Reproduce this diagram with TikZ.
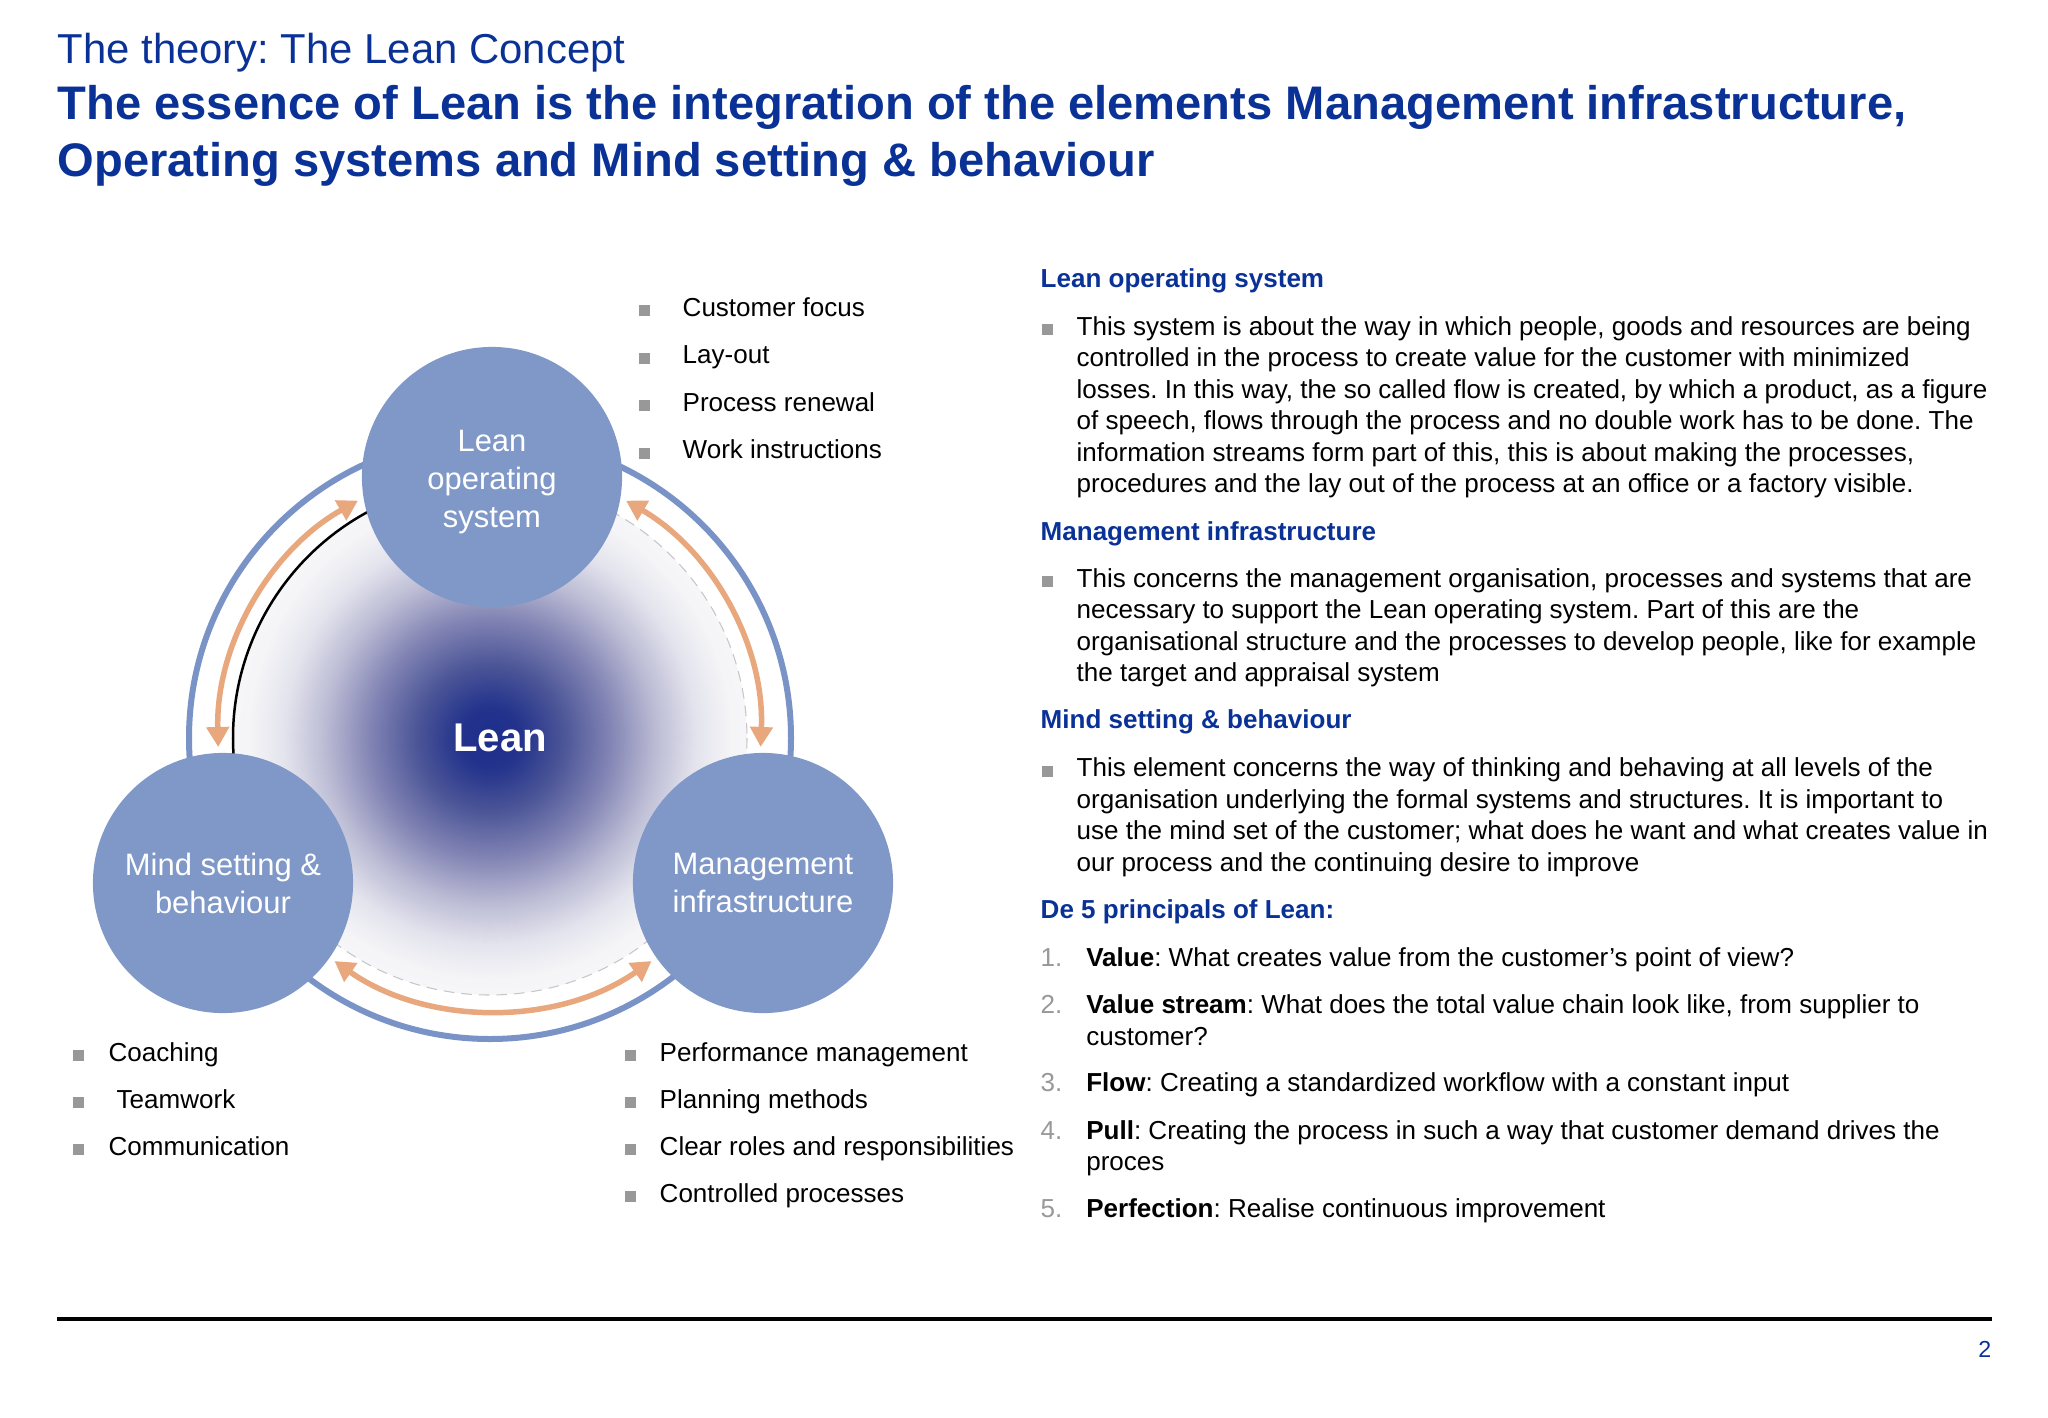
\documentclass[tikz,border=0pt]{standalone}
\usepackage{fontspec}
\setmainfont{Liberation Sans}
\usepackage{xcolor}
\usetikzlibrary{arrows.meta,calc,positioning}
\definecolor{titleblue}{RGB}{10,50,150}
\definecolor{circblue}{RGB}{127,152,199}
\definecolor{ringblue}{RGB}{122,147,198}
\definecolor{arrorange}{RGB}{232,167,125}
\definecolor{bulletgray}{RGB}{152,152,152}
\pgfdeclareradialshading{leanglow}{\pgfpointorigin}{%
  rgb(0bp)=(0.11,0.18,0.55);
  rgb(3bp)=(0.14,0.20,0.55);
  rgb(7bp)=(0.29,0.33,0.59);
  rgb(11.5bp)=(0.50,0.51,0.70);
  rgb(16bp)=(0.73,0.73,0.83);
  rgb(20bp)=(0.89,0.89,0.93);
  rgb(23.5bp)=(0.96,0.96,0.97);
  rgb(25bp)=(0.965,0.965,0.975);
  rgb(50bp)=(0.965,0.965,0.975)}
\frenchspacing

\begin{document}
\begin{tikzpicture}[x=0.01cm,y=-0.01cm,
  element/.style={circle,fill=circblue,minimum size=2.6cm,inner sep=0pt,outer sep=0.06cm,
    text=white,align=center,font=\fontsize{8.8}{10.8}\selectfont},
  cyc/.style={draw=arrorange,line width=0.055cm,
    arrows={Triangle[width=0.22cm,length=0.2cm]-Triangle[width=0.22cm,length=0.2cm]}},
  item/.style={anchor=base west,inner sep=0pt,font=\fontsize{7.4}{8.9}\selectfont},
  head/.style={item,text=titleblue,font=\fontsize{7.4}{8.9}\selectfont\bfseries},
  num/.style={item,text=bulletgray}]
\useasboundingbox (0,0) rectangle (2048,1418);

\node[item,text=titleblue,font=\fontsize{11.9}{14}\selectfont] (kicker) at (57,63) {The theory: The Lean Concept};
\node[item,text=titleblue,font=\fontsize{13.4}{16}\selectfont\bfseries] (title1) at (57,119)
  {The essence of Lean is the integration of the elements Management infrastructure,};
\node[item,text=titleblue,font=\fontsize{13.4}{16}\selectfont\bfseries] (title2) at (57,176)
  {Operating systems and Mind setting \& behaviour};

\coordinate (ctr) at (490,738);
\shade[shading=leanglow] (ctr) circle (257);
\draw[gray!45,densely dashed,line width=0.3pt] (ctr) circle (257);
\draw[black,line width=0.025cm] (ctr) ++(-104:257) arc[start angle=-104,end angle=-184,radius=257];
\draw[ringblue,line width=0.06cm] (ctr) circle (301);

\node[element] (ops) at (492,477) {\rule{0pt}{9.2pt}Lean\\operating\\system};
\node[element] (mind) at (223,883) {Mind setting \&\\behaviour};
\node[element] (mgmt) at (763,883) {Management\\infrastructure};
\node[text=white,inner sep=0pt,font=\fontsize{11.4}{13}\selectfont\bfseries] (core) at (500,738) {Lean};

\draw[cyc] (mind.92) to[bend left=31,looseness=0.92] (ops.190);
\draw[cyc] (ops.-10) to[bend left=31,looseness=0.92] (mgmt.91);
\draw[cyc] (mind.-35) to[bend right=35,looseness=0.92] (mgmt.-145);

\foreach \yy/\txt [count=\i] in {316/Customer focus,363.5/Lay-out,411/Process renewal,458.5/Work instructions}{
  \fill[bulletgray] (638.5,\yy) rectangle ++(11,-11);
  \node[item] (los\i) at (682,\yy) {\txt};
}
\foreach \yy/\dx/\txt [count=\i] in {1061/0/Coaching,1108/8/Teamwork,1155/0/Communication}{
  \fill[bulletgray] (72.5,\yy) rectangle ++(11,-11);
  \node[item] (msb\i) at (108+\dx,\yy) {\txt};
}
\foreach \yy/\txt [count=\i] in {1061/Performance management,1108/Planning methods,
                                 1155/Clear roles and responsibilities,1202/Controlled processes}{
  \fill[bulletgray] (624.5,\yy) rectangle ++(11,-11);
  \node[item] (mi\i) at (659,\yy) {\txt};
}

\node[head] (hlos) at (1040,287) {Lean operating system};
\fill[bulletgray] (1041.5,335) rectangle ++(11,-11);
\foreach \yy/\txt [count=\i] in {
  335/{This system is about the way in which people, goods and resources are being},
  366.5/{controlled in the process to create value for the customer with minimized},
  398/{losses. In this way, the so called flow is created, by which a product, as a figure},
  429.5/{of speech, flows through the process and no double work has to be done. The},
  461/{information streams form part of this, this is about making the processes,},
  492.5/{procedures and the lay out of the process at an office or a factory visible.}}{
  \node[item] (plos\i) at (1076,\yy) {\txt};
}

\node[head] (hmi) at (1040,540) {Management infrastructure};
\fill[bulletgray] (1041.5,587) rectangle ++(11,-11);
\foreach \yy/\txt [count=\i] in {
  587/{This concerns the management organisation, processes and systems that are},
  618.5/{necessary to support the Lean operating system. Part of this are the},
  650/{organisational structure and the processes to develop people, like for example},
  681.5/{the target and appraisal system}}{
  \node[item] (pmi\i) at (1076,\yy) {\txt};
}

\node[head] (hmsb) at (1040,728) {Mind setting \& behaviour};
\fill[bulletgray] (1041.5,776.5) rectangle ++(11,-11);
\foreach \yy/\txt [count=\i] in {
  776.5/{This element concerns the way of thinking and behaving at all levels of the},
  808/{organisation underlying the formal systems and structures. It is important to},
  839.5/{use the mind set of the customer; what does he want and what creates value in},
  871/{our process and the continuing desire to improve}}{
  \node[item] (pmsb\i) at (1076,\yy) {\txt};
}

\node[head] (hprin) at (1040,918) {De 5 principals of Lean:};
\foreach \yy/\txt [count=\i] in {
  966/{\textbf{Value}: What creates value from the customer’s point of view?},
  1013.5/{\textbf{Value stream}: What does the total value chain look like, from supplier to},
  1091.5/{\textbf{Flow}: Creating a standardized workflow with a constant input},
  1139/{\textbf{Pull}: Creating the process in such a way that customer demand drives the},
  1217/{\textbf{Perfection}: Realise continuous improvement}}{
  \node[num] (n\i) at (1040,\yy) {\i.};
  \node[item] (pr\i) at (1085.6,\yy) {\txt};
}
\node[item] (pr2b) at (1085.6,1045) {customer?};
\node[item] (pr4b) at (1085.6,1170) {proces};

\draw[line width=0.035cm] (57,1319) -- (1992,1319);
\node[anchor=base east,inner sep=0pt,text=titleblue,font=\fontsize{6.6}{8}\selectfont] (pageno) at (1992,1357) {2};
\end{tikzpicture}
\end{document}
